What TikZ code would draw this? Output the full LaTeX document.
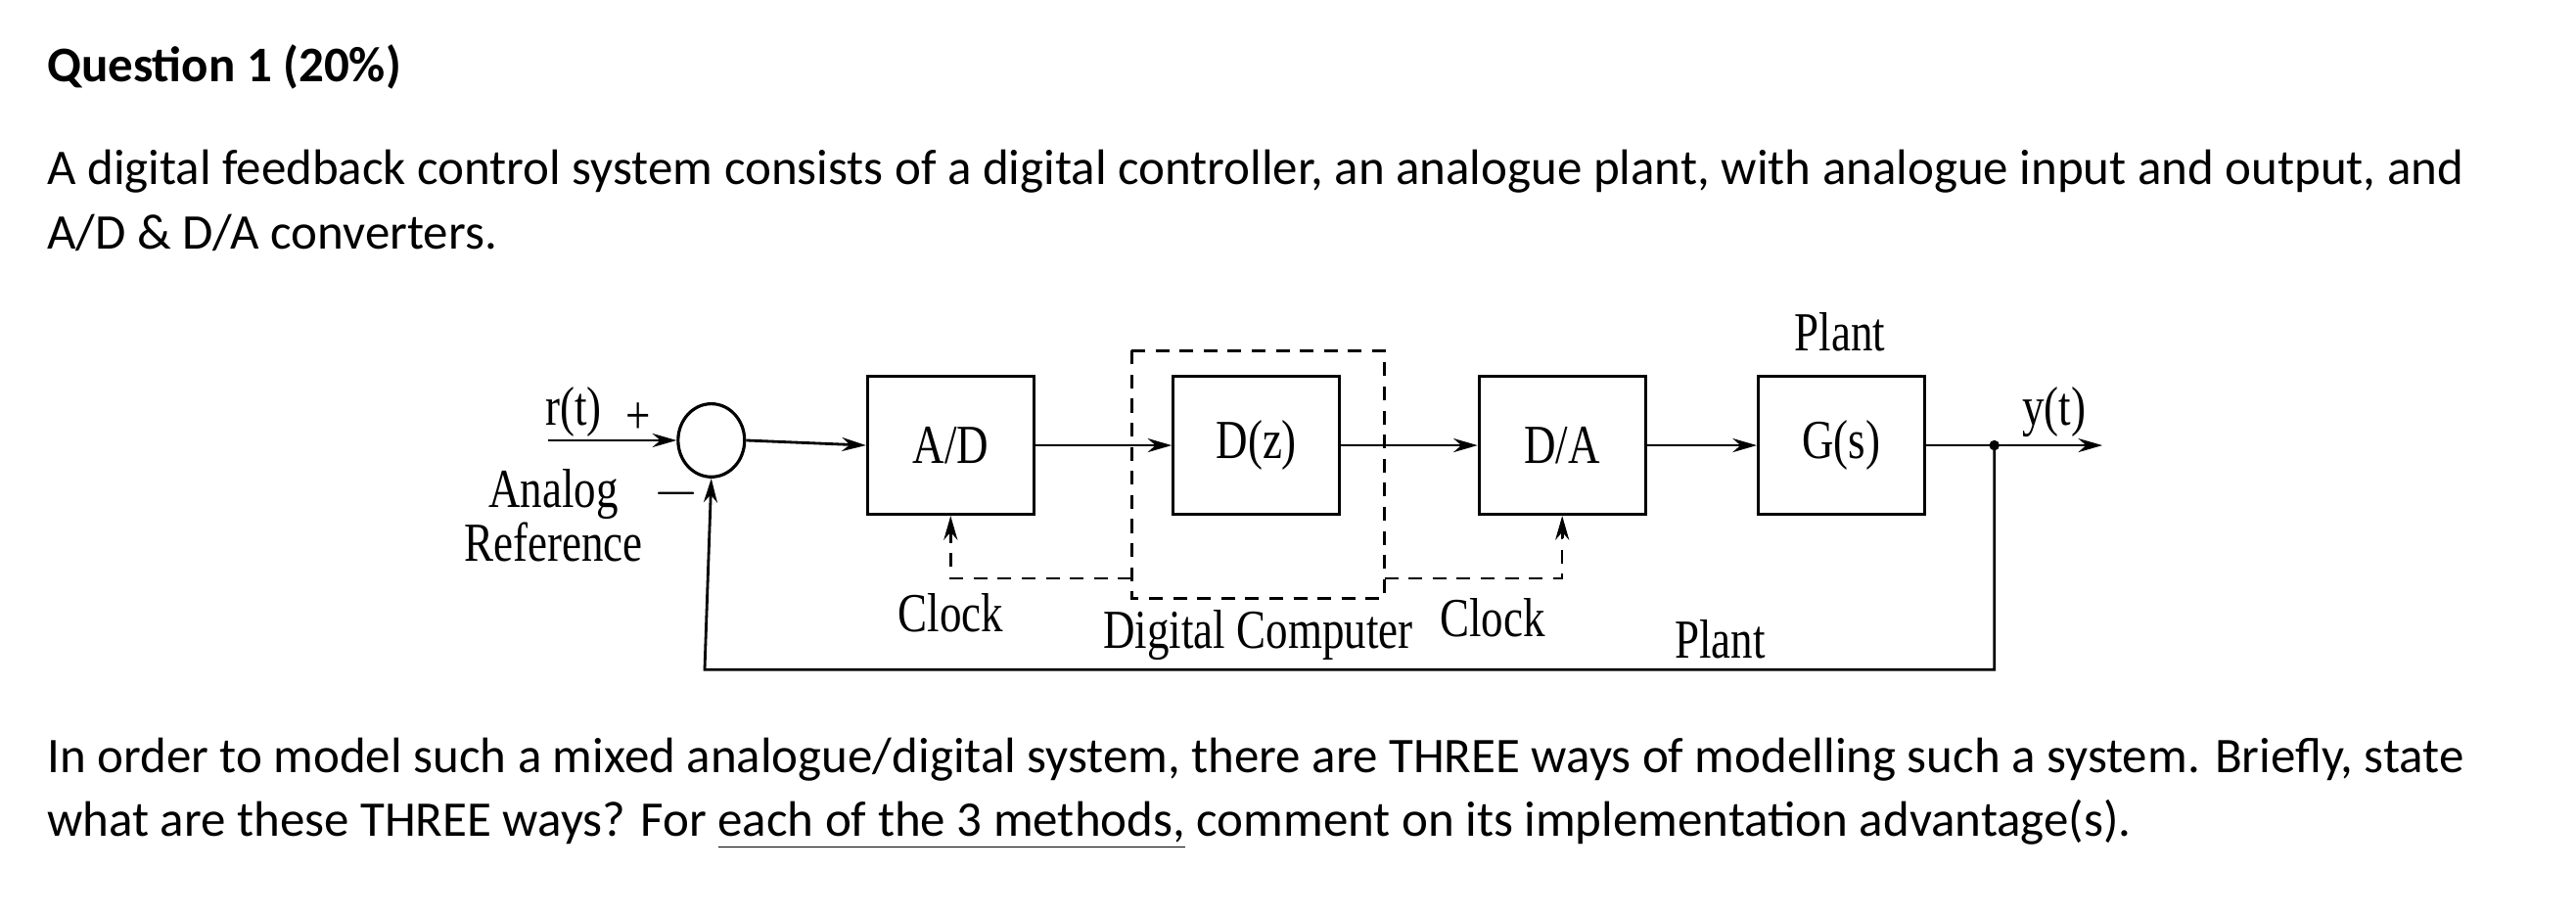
\documentclass[tikz,border=0pt]{standalone}
\usepackage{fontspec}
\setmainfont{Carlito}
\newfontfamily\dfont{Liberation Serif}[FakeStretch=0.8]
\usetikzlibrary{arrows.meta,shapes.geometric}
\begin{document}
\begin{tikzpicture}[x=0.01698cm,y=-0.01698cm,
  blk/.style={draw,line width=0.9pt,minimum width=100*0.01698cm,minimum height=83*0.01698cm,font=\dfont\fontsize{16}{18}\selectfont},
  lbl/.style={font=\dfont\fontsize{16}{17}\selectfont,inner sep=0pt},
  txt/.style={anchor=base west,inner sep=0pt,font=\fontsize{14.5}{17}\selectfont},
  arr/.style={-{Stealth[length=7pt,width=4pt]},line width=0.8pt},
  dsh/.style={dashed,dash pattern=on 4pt off 3pt,line width=0.7pt}]
\useasboundingbox (0,0) rectangle (1550,551.2);
\node[txt,font=\bfseries\fontsize{14.5}{17}\selectfont] (q) at (28,49) {Question 1 (20\%)};
\node[txt] (p1) at (28,111) {A digital feedback control system consists of a digital controller, an analogue plant, with analogue input and output, and};
\node[txt] (p2) at (28,150) {A/D \& D/A converters.};
\node[txt] (p3) at (28,465) {In order to model such a mixed analogue/digital system, there are THREE ways of modelling such a system. Briefly, state};
\node[txt] (p4) at (28,503) {what are these THREE ways? For \underline{each of the 3 methods,} comment on its implementation advantage(s).};
% diagram
\node[ellipse,draw,line width=0.9pt,minimum width=40*0.01698cm,minimum height=44*0.01698cm,inner sep=0pt] (s) at (428,265) {};
\node[blk] (ad) at (572,268) {A/D};
\node[blk] (dz) at (756,268) {D(z)};
\node[blk] (da) at (940,268) {D/A};
\node[blk] (g) at (1108,268) {G(s)};
\draw[dsh] (681,211) rectangle (833,360);
\coordinate (in) at (330,265);
\coordinate (j) at (1200,268);
\coordinate (out) at (1265,268);
\coordinate (fl) at (424,403);
\coordinate (fr) at (1200,403);
\draw[arr] (in) -- (s.west);
\draw[arr] (s.east) -- (ad.west);
\draw[arr] (ad.east) -- (dz.west);
\draw[arr] (dz.east) -- (da.west);
\draw[arr] (da.east) -- (g.west);
\draw[arr] (g.east) -- (out);
\fill (j) circle (1.5pt);
\draw[arr] (j) -- (fr) -- (fl) -- (s.south);
\coordinate (c1) at (572,348);
\coordinate (c2) at (940,348);
\coordinate (c1r) at (681,348);
\coordinate (c2l) at (833,348);
\draw[dsh] (c1r) -- (c1) -- (572,322);
\draw[arr] (572,324) -- (ad.south);
\draw[dsh] (c2l) -- (c2) -- (940,322);
\draw[arr] (940,324) -- (da.south);
\node[lbl] (rt) at (345,248) {r(t)};
\node[lbl] (pl) at (384,252) {+};
\node[lbl,align=center,font=\dfont\fontsize{16}{13}\selectfont] (ar) at (333,310) {Analog\\Reference};
\node[lbl] (mi) at (407,297) {$-$};
\node[lbl] (ck1) at (572,369) {Clock};
\node[lbl] (dc) at (757,382) {Digital Computer};
\node[lbl] (ck2) at (898,372) {Clock};
\node[lbl] (pb) at (1035,385) {Plant};
\node[lbl] (pt) at (1107,200) {Plant};
\node[lbl] (yt) at (1236,248) {y(t)};
\end{tikzpicture}
\end{document}
